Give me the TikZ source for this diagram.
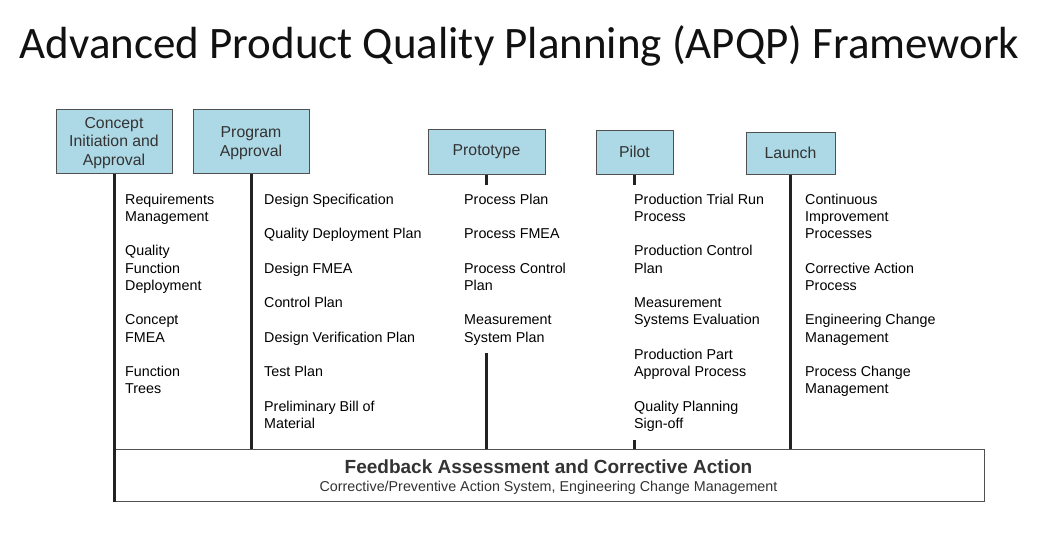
\documentclass[tikz,border=0pt]{standalone}
\usepackage{fontspec}
\setmainfont{Liberation Sans}
\newfontfamily\titlefont{Carlito}
\definecolor{boxblue}{HTML}{ADD8E6}
\definecolor{boxline}{HTML}{505050}
\definecolor{hdrtext}{HTML}{333333}
\definecolor{stemcol}{HTML}{222222}
\definecolor{bodytext}{HTML}{000000}
\definecolor{titletext}{HTML}{111111}
\begin{document}
\begin{tikzpicture}[x=1pt,y=-1pt,
  phase/.style={draw=boxline, line width=1pt, fill=boxblue, text=hdrtext,
    font=\fontsize{15.8}{18.5}\selectfont, align=center, inner sep=0pt},
  stemline/.style={draw=stemcol, line width=3pt},
  col/.style={anchor=north west, inner sep=0pt, align=left, text=bodytext,
    font=\fontsize{14.3}{17.25}\selectfont},
  fbtext/.style={text=hdrtext, inner sep=0pt, anchor=base},
]
\useasboundingbox (0,0) rectangle (1042,538);
\fill[white] (0,0) rectangle (1042,538);

% title
\node[anchor=base, inner sep=0pt, text=titletext, font=\titlefont\fontsize{45}{50}\selectfont]
  (title) at (519.5,58) {Advanced Product Quality Planning (APQP) Framework};

% phase boxes
\node[phase, minimum width=116pt, minimum height=64pt] (concept) at (114,141) {\rule{0pt}{14.5pt}Concept\\Initiation and\\Approval};
\node[phase, minimum width=116pt, minimum height=64pt] (program) at (251,141) {\rule{0pt}{15.5pt}Program\\Approval};
\node[phase, minimum width=117pt, minimum height=45pt] (proto) at (486.5,151.5) {Prototype};
\node[phase, minimum width=77pt, minimum height=44pt] (pilot) at (634.5,152) {Pilot};
\node[phase, minimum width=89pt, minimum height=42pt] (launch) at (790.5,153) {Launch};

% feedback box
\node[draw=boxline, line width=1pt, fill=white, minimum width=870pt, minimum height=52pt, inner sep=0pt]
  (fb) at (549,475) {};
\node[fbtext, font=\bfseries\fontsize{19}{19}\selectfont] (fbtitle) at (548.5,473.5)
  {Feedback Assessment and Corrective Action};
\node[fbtext, font=\fontsize{14.3}{14.3}\selectfont] (fbsub) at (548.5,491.5)
  {Corrective/Preventive Action System, Engineering Change Management};

% stems
\coordinate (protoStub) at (486.5,185);
\coordinate (protoLow) at (486.5,353);
\coordinate (pilotStub) at (634.5,184.5);
\coordinate (pilotLow) at (634.5,440);
\draw[stemline] (concept.south) -- (concept.south |- fb.south);
\draw[stemline] (program.south) -- (program.south |- fb.north);
\draw[stemline] (proto.south) -- (protoStub);
\draw[stemline] (protoLow) -- (protoLow |- fb.north);
\draw[stemline] (pilot.south) -- (pilotStub);
\draw[stemline] (pilotLow) -- (pilotLow |- fb.north);
\draw[stemline] (launch.south) -- (launch.south |- fb.north);

% deliverables
\node[col] (c1) at (125,192) {\rule{0pt}{12pt}Requirements\\Management\\[17.25pt]
  Quality\\Function\\Deployment\\[17.25pt]
  Concept\\FMEA\\[17.25pt]
  Function\\Trees};
\node[col] (c2) at (264,192) {\rule{0pt}{12pt}Design Specification\\[17.25pt]
  Quality Deployment Plan\\[17.25pt]
  Design FMEA\\[17.25pt]
  Control Plan\\[17.25pt]
  Design Verification Plan\\[17.25pt]
  Test Plan\\[17.25pt]
  Preliminary Bill of\\Material};
\node[col] (c3) at (464,192) {\rule{0pt}{12pt}Process Plan\\[17.25pt]
  Process FMEA\\[17.25pt]
  Process Control\\Plan\\[17.25pt]
  Measurement\\System Plan};
\node[col] (c4) at (634,192) {\rule{0pt}{12pt}Production Trial Run\\Process\\[17.25pt]
  Production Control\\Plan\\[17.25pt]
  Measurement\\Systems Evaluation\\[17.25pt]
  Production Part\\Approval Process\\[17.25pt]
  Quality Planning\\Sign-off};
\node[col] (c5) at (805,192) {\rule{0pt}{12pt}Continuous\\Improvement\\Processes\\[17.25pt]
  Corrective Action\\Process\\[17.25pt]
  Engineering Change\\Management\\[17.25pt]
  Process Change\\Management};
\end{tikzpicture}
\end{document}
